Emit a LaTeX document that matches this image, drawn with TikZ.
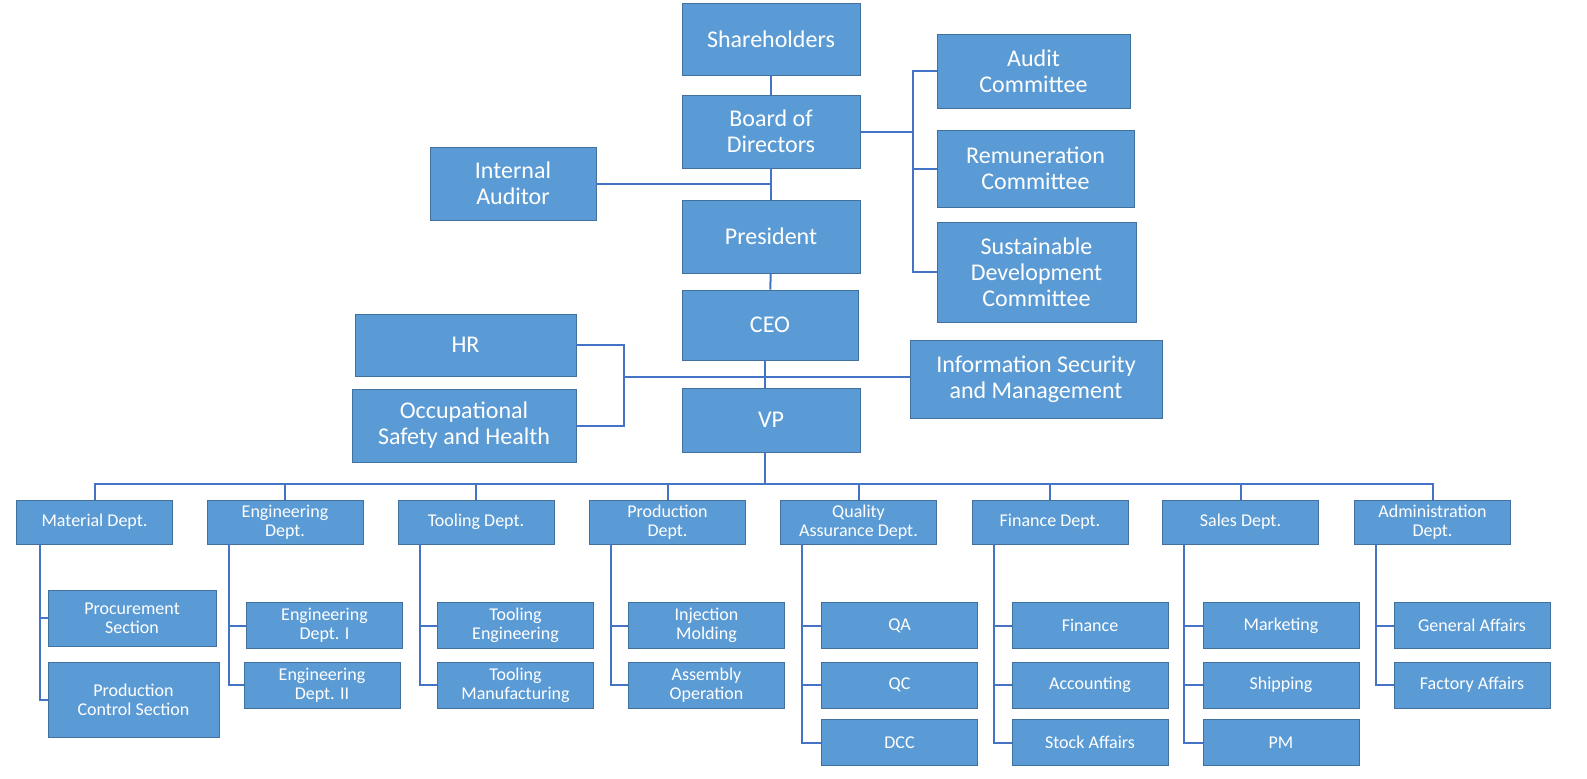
\documentclass[tikz,border=0pt]{standalone}
\usepackage{fontspec}
\setmainfont{Carlito}
\definecolor{boxfill}{HTML}{5B9BD5}
\definecolor{boxline}{HTML}{41719C}
\definecolor{linkcol}{HTML}{4472C4}
\tikzset{
  box/.style={draw=boxline, line width=0.6pt, fill=boxfill, text=white, align=center, inner sep=1pt},
  big/.style={box, font=\fontsize{18}{19.5}\selectfont},
  small/.style={box, font=\fontsize{13.5}{14}\selectfont, minimum width=117pt},
  link/.style={draw=linkcol, line width=1.5pt}
}
\begin{document}
\begin{tikzpicture}[x=0.75pt,y=0.75pt,yscale=-1,xscale=1]
\useasboundingbox (0,0) rectangle (1587,778);

% top part
\node[big, minimum width=133.5pt, minimum height=54pt] (share) at (771,39) {Shareholders};
\node[big, minimum width=133.5pt, minimum height=54.75pt] (board) at (771,131.5) {Board of\\Directors};
\node[big, minimum width=124.5pt, minimum height=54.75pt] (audit) at (513,183.5) {Internal\\Auditor};
\node[big, minimum width=133.5pt, minimum height=54.75pt] (pres) at (771,236.5) {President};
\node[big, minimum width=132pt, minimum height=52.5pt] (ceo) at (770,325) {CEO};
\node[big, minimum width=144.75pt, minimum height=55.5pt] (acom) at (1033.5,71) {Audit\\Committee};
\node[big, minimum width=147.75pt, minimum height=57.75pt] (rcom) at (1035.5,168.5) {Remuneration\\Committee};
\node[big, minimum width=149.25pt, minimum height=75pt] (scom) at (1036.5,272) {Sustainable\\Development\\Committee};
\node[big, minimum width=165.75pt, minimum height=46.5pt] (hr) at (465.5,345) {HR};
\node[big, minimum width=168pt, minimum height=54.75pt] (osh) at (464,425.5) {Occupational\\Safety and Health};
\node[big, minimum width=189pt, minimum height=58.5pt] (info) at (1036,379) {Information Security\\and Management};
\node[big, minimum width=133.5pt, minimum height=48pt] (vp) at (771,420) {VP};

\coordinate (cm) at (913,131.5);
\coordinate (hm) at (624,377);
\coordinate (bus) at (765,484);

\draw[link] (share) -- (board);
\draw[link] (board) -- (pres);
\draw[link] (audit.east) -- (audit.east -| board);
\draw[link] (pres) -- (ceo);
\draw[link] (board.east) -- (cm);
\draw[link] (acom.west) -| (cm) |- (rcom.west);
\draw[link] (cm) |- (scom.west);
\draw[link] (ceo.south -| bus) -- (vp.north -| bus);
\draw[link] (hr.east) -| (hm) |- (osh.east);
\draw[link] (hm) -- (hm -| info.west);
\draw[link] (vp.south -| bus) -- (bus);

% departments
\node[small, minimum height=33pt] (mat) at (94.5,522) {Material Dept.};
\node[small, minimum height=33pt] (eng) at (285,522) {Engineering\\Dept.};
\node[small, minimum height=33pt] (tool) at (476,522) {Tooling Dept.};
\node[small, minimum height=33pt] (prod) at (667.5,522) {Production\\Dept.};
\node[small, minimum height=33pt] (qad) at (858.5,522) {Quality\\Assurance Dept.};
\node[small, minimum height=33pt] (fin) at (1050,522) {Finance Dept.};
\node[small, minimum height=33pt] (sal) at (1240.5,522) {Sales Dept.};
\node[small, minimum height=33pt] (adm) at (1432.5,522) {Administration\\Dept.};

\draw[link] (mat.north) |- (bus) -| (adm.north);
\foreach \d in {eng,tool,prod,qad,fin,sal}
  \draw[link] (\d.north) -- (\d.north |- bus);

% sections
\node[small, minimum width=126pt, minimum height=42pt] (proc) at (132,618) {Procurement\\Section};
\node[small, minimum width=128.25pt, minimum height=56.25pt] (pcs) at (133.5,699.5) {Production\\Control Section};
\node[small, minimum height=34.5pt] (eng1) at (324.5,625.5) {Engineering\\Dept. I};
\node[small, minimum height=34.5pt] (eng2) at (322,685) {Engineering\\Dept. II};
\node[small, minimum height=34.5pt] (teng) at (515.5,625.5) {Tooling\\Engineering};
\node[small, minimum height=34.5pt] (tman) at (515.5,685) {Tooling\\Manufacturing};
\node[small, minimum height=34.5pt] (inj) at (706.5,625.5) {Injection\\Molding};
\node[small, minimum height=34.5pt] (asm) at (706.5,685) {Assembly\\Operation};
\node[small, minimum height=34.5pt] (qa) at (899.5,625.5) {QA};
\node[small, minimum height=34.5pt] (qc) at (899.5,685) {QC};
\node[small, minimum height=34.5pt] (dcc) at (899.5,742.5) {DCC};
\node[small, minimum height=34.5pt] (fina) at (1090,625.5) {Finance};
\node[small, minimum height=34.5pt] (acc) at (1090,685) {Accounting};
\node[small, minimum height=34.5pt] (stk) at (1090,742.5) {Stock Affairs};
\node[small, minimum height=34.5pt] (mkt) at (1281,625.5) {Marketing};
\node[small, minimum height=34.5pt] (shp) at (1281,685) {Shipping};
\node[small, minimum height=34.5pt] (pm) at (1281,742.5) {PM};
\node[small, minimum height=34.5pt] (gen) at (1472,625.5) {General Affairs};
\node[small, minimum height=34.5pt] (fac) at (1472,685) {Factory Affairs};

\draw[link] ([xshift=18pt]mat.south west) |- (pcs.west);
\draw[link] ([xshift=18pt]mat.south west |- proc.west) -- (proc.west);
\draw[link] ([xshift=16.5pt]eng.south west) |- (eng2.west);
\draw[link] ([xshift=16.5pt]eng.south west |- eng1.west) -- (eng1.west);
\draw[link] ([xshift=16.5pt]tool.south west) |- (tman.west);
\draw[link] ([xshift=16.5pt]tool.south west |- teng.west) -- (teng.west);
\draw[link] ([xshift=16.5pt]prod.south west) |- (asm.west);
\draw[link] ([xshift=16.5pt]prod.south west |- inj.west) -- (inj.west);
\draw[link] ([xshift=16.5pt]qad.south west) |- (dcc.west);
\draw[link] ([xshift=16.5pt]qad.south west |- qa.west) -- (qa.west);
\draw[link] ([xshift=16.5pt]qad.south west |- qc.west) -- (qc.west);
\draw[link] ([xshift=16.5pt]fin.south west) |- (stk.west);
\draw[link] ([xshift=16.5pt]fin.south west |- fina.west) -- (fina.west);
\draw[link] ([xshift=16.5pt]fin.south west |- acc.west) -- (acc.west);
\draw[link] ([xshift=16.5pt]sal.south west) |- (pm.west);
\draw[link] ([xshift=16.5pt]sal.south west |- mkt.west) -- (mkt.west);
\draw[link] ([xshift=16.5pt]sal.south west |- shp.west) -- (shp.west);
\draw[link] ([xshift=16.5pt]adm.south west) |- (fac.west);
\draw[link] ([xshift=16.5pt]adm.south west |- gen.west) -- (gen.west);

\end{tikzpicture}
\end{document}
